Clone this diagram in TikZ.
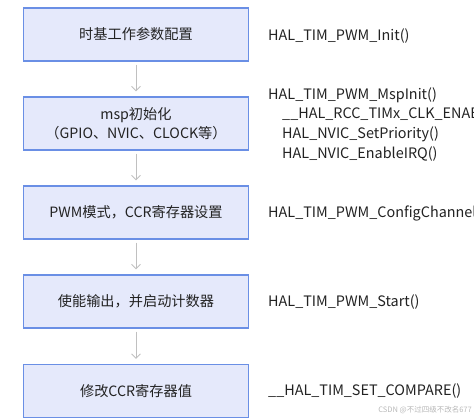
\documentclass[tikz,border=0pt]{standalone}
\usepackage{fontspec}
\setmainfont{Noto Sans CJK SC}
\usetikzlibrary{arrows.meta}
\definecolor{boxfill}{HTML}{E5E9FB}
\definecolor{boxline}{HTML}{6A8FE5}
\definecolor{arrowgray}{HTML}{C0C0C0}
\definecolor{txt}{HTML}{222222}
\tikzset{
  stepbox/.style={draw=boxline, line width=1.3pt, fill=boxfill, minimum width=225pt, minimum height=53pt, inner sep=0pt, font=\fontsize{14.2}{19.5}\selectfont, text=txt, align=center},
  apicall/.style={anchor=west, inner sep=0pt, font=\fontsize{14.4}{17}\selectfont, text=txt},
  flow/.style={draw=arrowgray, line width=0.8pt, -{Straight Barb[length=4.5pt,width=9pt]}, shorten <=3pt, shorten >=5pt}
}
\begin{document}
\begin{tikzpicture}[x=1pt,y=-1pt]
\useasboundingbox (0,0) rectangle (474,419);
\clip (0,0) rectangle (474,419);
\node[stepbox] (b1) at (136,34.5) {时基工作参数配置};
\node[stepbox] (b2) at (136,123.5) {msp初始化\\（GPIO、NVIC、CLOCK等）};
\node[stepbox] (b3) at (136,212.5) {PWM模式，CCR寄存器设置};
\node[stepbox] (b4) at (136,301.5) {使能输出，并启动计数器};
\node[stepbox] (b5) at (136,391) {修改CCR寄存器值};
\draw[flow] (b1) -- (b2);
\draw[flow] (b2) -- (b3);
\draw[flow] (b3) -- (b4);
\draw[flow] (b4) -- (b5);
\node[apicall] (t1) at (268,36) {HAL\_TIM\_PWM\_Init()};
\node[apicall] (t2a) at (268,95) {HAL\_TIM\_PWM\_MspInit()};
\node[apicall] (t2b) at (282,114) {\_\_HAL\_RCC\_TIMx\_CLK\_ENABLE()};
\node[apicall] (t2c) at (282,134) {HAL\_NVIC\_SetPriority()};
\node[apicall] (t2d) at (282,154) {HAL\_NVIC\_EnableIRQ()};
\node[apicall] (t3) at (268,213) {HAL\_TIM\_PWM\_ConfigChannel()};
\node[apicall] (t4) at (268,302) {HAL\_TIM\_PWM\_Start()};
\node[apicall] (t5) at (268,391) {\_\_HAL\_TIM\_SET\_COMPARE()};
\node[anchor=east, inner sep=0pt, font=\fontsize{7.5}{9}\selectfont, text=black!28] (wm) at (472,410) {CSDN @不过四级不改名677};
\end{tikzpicture}
\end{document}
